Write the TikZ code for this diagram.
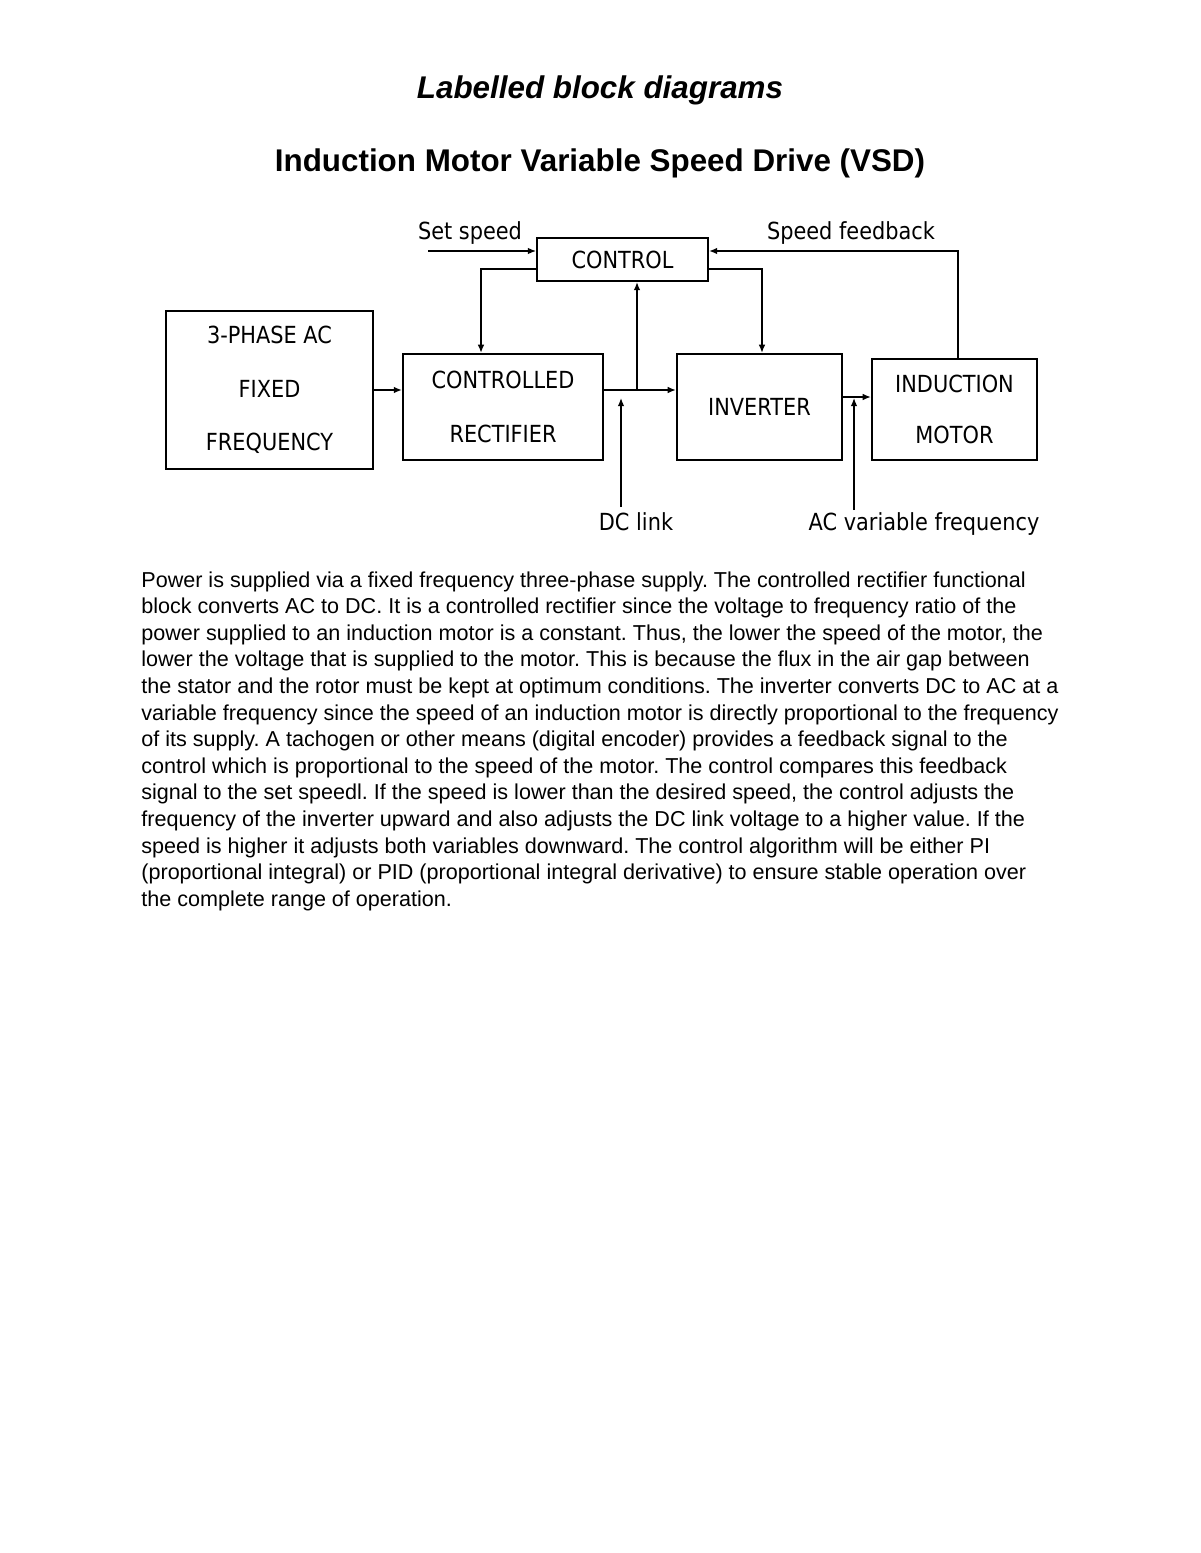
\documentclass[tikz,border=0pt]{standalone}
\usepackage{fontspec}
\setmainfont{Liberation Sans}
\newfontfamily\diagfont[FakeStretch=0.887]{DejaVu Sans}
\usetikzlibrary{arrows.meta,calc}
\frenchspacing
\begin{document}
\begin{tikzpicture}[x=0.51pt,y=-0.51pt,
  blk/.style={draw, line width=1pt, inner sep=0pt, align=center, font=\diagfont\fontsize{12}{14}\selectfont},
  lbl/.style={anchor=base, inner sep=0pt, font=\diagfont\fontsize{12}{14}\selectfont},
  arr/.style={line width=1pt, -{Latex[length=4.2pt,width=3.4pt]}},
  arrthin/.style={line width=0.7pt, -{Latex[length=4.2pt,width=3.4pt]}},
  body/.style={anchor=base west, inner sep=0pt, font=\fontsize{11}{13.6}\selectfont},
  ttl/.style={anchor=base, inner sep=0pt, font=\bfseries\fontsize{16}{19}\selectfont}]
\useasboundingbox (0,0) rectangle (1200,1553);

% titles
\node[ttl, font=\bfseries\itshape\fontsize{16}{19}\selectfont] (t1) at (600,99) {Labelled block diagrams};
\node[ttl] (t2) at (600,172) {Induction Motor Variable Speed Drive (VSD)};

% blocks
\node[blk, minimum width=105.6pt, minimum height=80.6pt, font=\diagfont\fontsize{12}{27.3}\selectfont] (phase) at (269.5,390) {3-PHASE AC\\FIXED\\FREQUENCY};
\node[blk, minimum width=102pt, minimum height=54.1pt, font=\diagfont\fontsize{12}{27.5}\selectfont] (rect) at (503,407) {CONTROLLED\\RECTIFIER};
\node[blk, minimum width=87.2pt, minimum height=21.9pt] (ctrl) at (622.5,259.5) {CONTROL};
\node[blk, minimum width=84.2pt, minimum height=54.1pt] (inv) at (759.5,407) {INVERTER};
\node[blk, minimum width=84.2pt, minimum height=51.5pt, font=\diagfont\fontsize{12}{26.3}\selectfont] (motor) at (954.5,409.5) {INDUCTION\\MOTOR};

% labels
\node[lbl] (setspeed) at (470,239) {Set speed};
\node[lbl] (fb) at (851,239) {Speed feedback};
\node[lbl] (dclink) at (636,530) {DC link};
\node[lbl] (acvar) at (924,530) {AC variable frequency};

% connectors
\coordinate (ssin) at (428,251);
\draw[arrthin] (ssin) -- (ssin -| ctrl.west);
\draw[arr] (phase.east) -- (phase.east -| rect.west);
\draw[arr] ($(ctrl.west)+(0,9.5)$) -| ($(rect.north west)+(79,0)$);
\draw[arr] ($(rect.east)+(0,-17)$) -- ($(inv.west)+(0,-17)$);
\coordinate (j1) at (637,390);
\draw[arr] (j1) -- (j1 |- ctrl.south);
\draw[arr] ($(ctrl.east)+(0,9.5)$) -| ($(inv.north west)+(86,0)$);
\draw[arr] ($(inv.east)+(0,-10)$) -- ($(motor.west)+(0,-12.5)$);
\draw[arr] ($(motor.north)+(3.5,0)$) |- ($(ctrl.east)+(0,-8.5)$);
\coordinate (dca) at (621,507);
\coordinate (dcb) at (621,398);
\draw[arrthin] (dca) -- (dcb);
\coordinate (aca) at (854,510);
\coordinate (acb) at (854,398);
\draw[arrthin] (aca) -- (acb);

% body text
\node[body] (l1) at (141,587.0) {Power is supplied via a fixed frequency three-phase supply. The controlled rectifier functional};
\node[body] (l2) at (141,613.6) {block converts AC to DC. It is a controlled rectifier since the voltage to frequency ratio of the};
\node[body] (l3) at (141,640.2) {power supplied to an induction motor is a constant. Thus, the lower the speed of the motor, the};
\node[body] (l4) at (141,666.8) {lower the voltage that is supplied to the motor. This is because the flux in the air gap between};
\node[body] (l5) at (141,693.4) {the stator and the rotor must be kept at optimum conditions. The inverter converts DC to AC at a};
\node[body] (l6) at (141,720.0) {variable frequency since the speed of an induction motor is directly proportional to the frequency};
\node[body] (l7) at (141,746.6) {of its supply. A tachogen or other means (digital encoder) provides a feedback signal to the};
\node[body] (l8) at (141,773.2) {control which is proportional to the speed of the motor. The control compares this feedback};
\node[body] (l9) at (141,799.8) {signal to the set speedl. If the speed is lower than the desired speed, the control adjusts the};
\node[body] (l10) at (141,826.4) {frequency of the inverter upward and also adjusts the DC link voltage to a higher value. If the};
\node[body] (l11) at (141,853.0) {speed is higher it adjusts both variables downward. The control algorithm will be either PI};
\node[body] (l12) at (141,879.6) {(proportional integral) or PID (proportional integral derivative) to ensure stable operation over};
\node[body] (l13) at (141,906.2) {the complete range of operation.};
\end{tikzpicture}
\end{document}
